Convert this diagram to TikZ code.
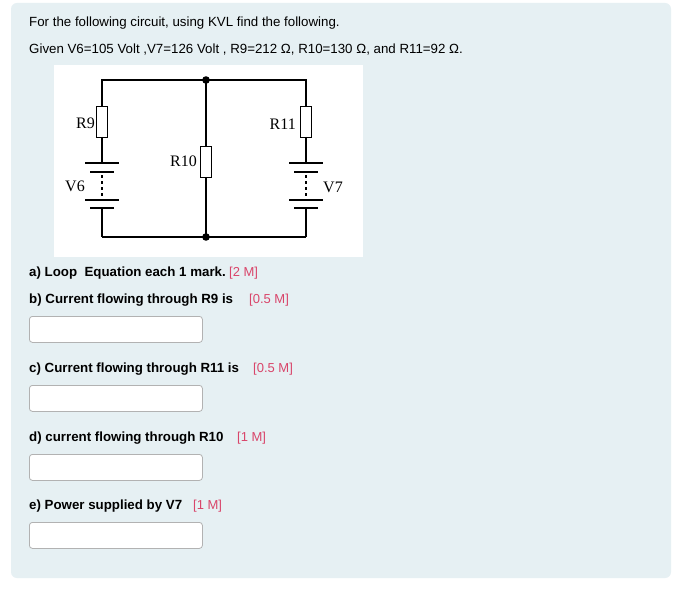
\documentclass[tikz,border=0pt]{standalone}
\usepackage{fontspec}
\setmainfont{Liberation Sans}
\newfontfamily\serifc{Liberation Serif}
\begin{document}
\begin{tikzpicture}[x=1pt,y=-1pt,
  wire/.style={line width=1.8pt},
  res/.style={draw,line width=1.5pt,fill=white,minimum width=11pt,minimum height=31pt,inner sep=0pt},
  lbl/.style={font=\serifc\fontsize{16}{18}\selectfont,inner sep=0pt},
  txt/.style={anchor=west,inner sep=0pt,font=\fontsize{13.3}{16}\selectfont},
  q/.style={anchor=west,inner sep=0pt,font=\bfseries\fontsize{13.3}{16}\selectfont},
  mk/.style={anchor=west,inner sep=0pt,text=markred,font=\fontsize{13}{16}\selectfont},
  abox/.style={draw=gray!60,fill=white,rounded corners=3pt,line width=0.8pt,minimum width=173pt,minimum height=26pt,anchor=north west,inner sep=0pt}]
\definecolor{panel}{HTML}{E6F0F3}
\definecolor{markred}{HTML}{D9456A}
\useasboundingbox (0,0) rectangle (700,588);
\fill[white] (0,0) rectangle (700,588);
\fill[panel,rounded corners=6pt] (11,3) rectangle (671,578);
\node[txt] (t1) at (29,23) {For the following circuit, using KVL find the following.};
\node[txt] (t2) at (29,50) {Given V6=105 Volt ,V7=126 Volt , R9=212 Ω, R10=130 Ω, and R11=92 Ω.};
\fill[white] (54,65) rectangle (363,257);
\coordinate (tl) at (102,80); \coordinate (tm) at (206,80); \coordinate (tr) at (306,80);
\coordinate (bl) at (102,237); \coordinate (bm) at (206,237); \coordinate (br) at (306,237);
\node[res] (r9) at (102,122) {};
\node[res] (r10) at (206,162) {};
\node[res] (r11) at (306,122) {};
\draw[wire] (r9.north) -- (tl) -- (tr) -- (r11.north);
\draw[wire] (tm) -- (r10.north); \draw[wire] (r10.south) -- (bm);
\draw[wire] (bl) -- (br);
\fill (tm) circle (3.8pt); \fill (bm) circle (3.8pt);
\foreach \x/\n in {102/a,306/b}{
  \coordinate (p1\n) at (\x,163); \coordinate (p2\n) at (\x,208);
  \draw[wire] (\x,137) -- (p1\n);
  \draw[line width=1.8pt] (\x-17,163) -- (\x+17,163);
  \draw[line width=1.8pt] (\x-12,172) -- (\x+12,172);
  \draw[line width=1.5pt,dash pattern=on 3pt off 3pt] (\x,175) -- (\x,198);
  \draw[line width=1.8pt] (\x-17,200) -- (\x+17,200);
  \draw[line width=1.8pt] (\x-12,208) -- (\x+12,208);
  \draw[wire] (p2\n) -- (\x,237);
}
\node[lbl,anchor=east] (l9) at (95,123) {R9};
\node[lbl,anchor=east] (l10) at (197,161) {R10};
\node[lbl,anchor=east] (l11) at (296,124) {R11};
\node[lbl,anchor=east] (l6) at (85,186) {V6};
\node[lbl,anchor=west] (l7) at (323,187) {V7};
\node[q] (qa) at (29,273) {a) Loop\ \ Equation each 1 mark.}; \node[mk] at (229,273) {[2 M]};
\node[q] (qb) at (29,300) {b) Current flowing through R9 is}; \node[mk] at (249,300) {[0.5 M]};
\node[abox] (b1) at (29,316) {};
\node[q] (qc) at (29,369) {c) Current flowing through R11 is}; \node[mk] at (253,369) {[0.5 M]};
\node[abox] (b2) at (29,385) {};
\node[q] (qd) at (29,438) {d) current flowing through R10}; \node[mk] at (237,438) {[1 M]};
\node[abox] (b3) at (29,454) {};
\node[q] (qe) at (29,506) {e) Power supplied by V7}; \node[mk] at (193,506) {[1 M]};
\node[abox] (b4) at (29,522) {};
\end{tikzpicture}
\end{document}
